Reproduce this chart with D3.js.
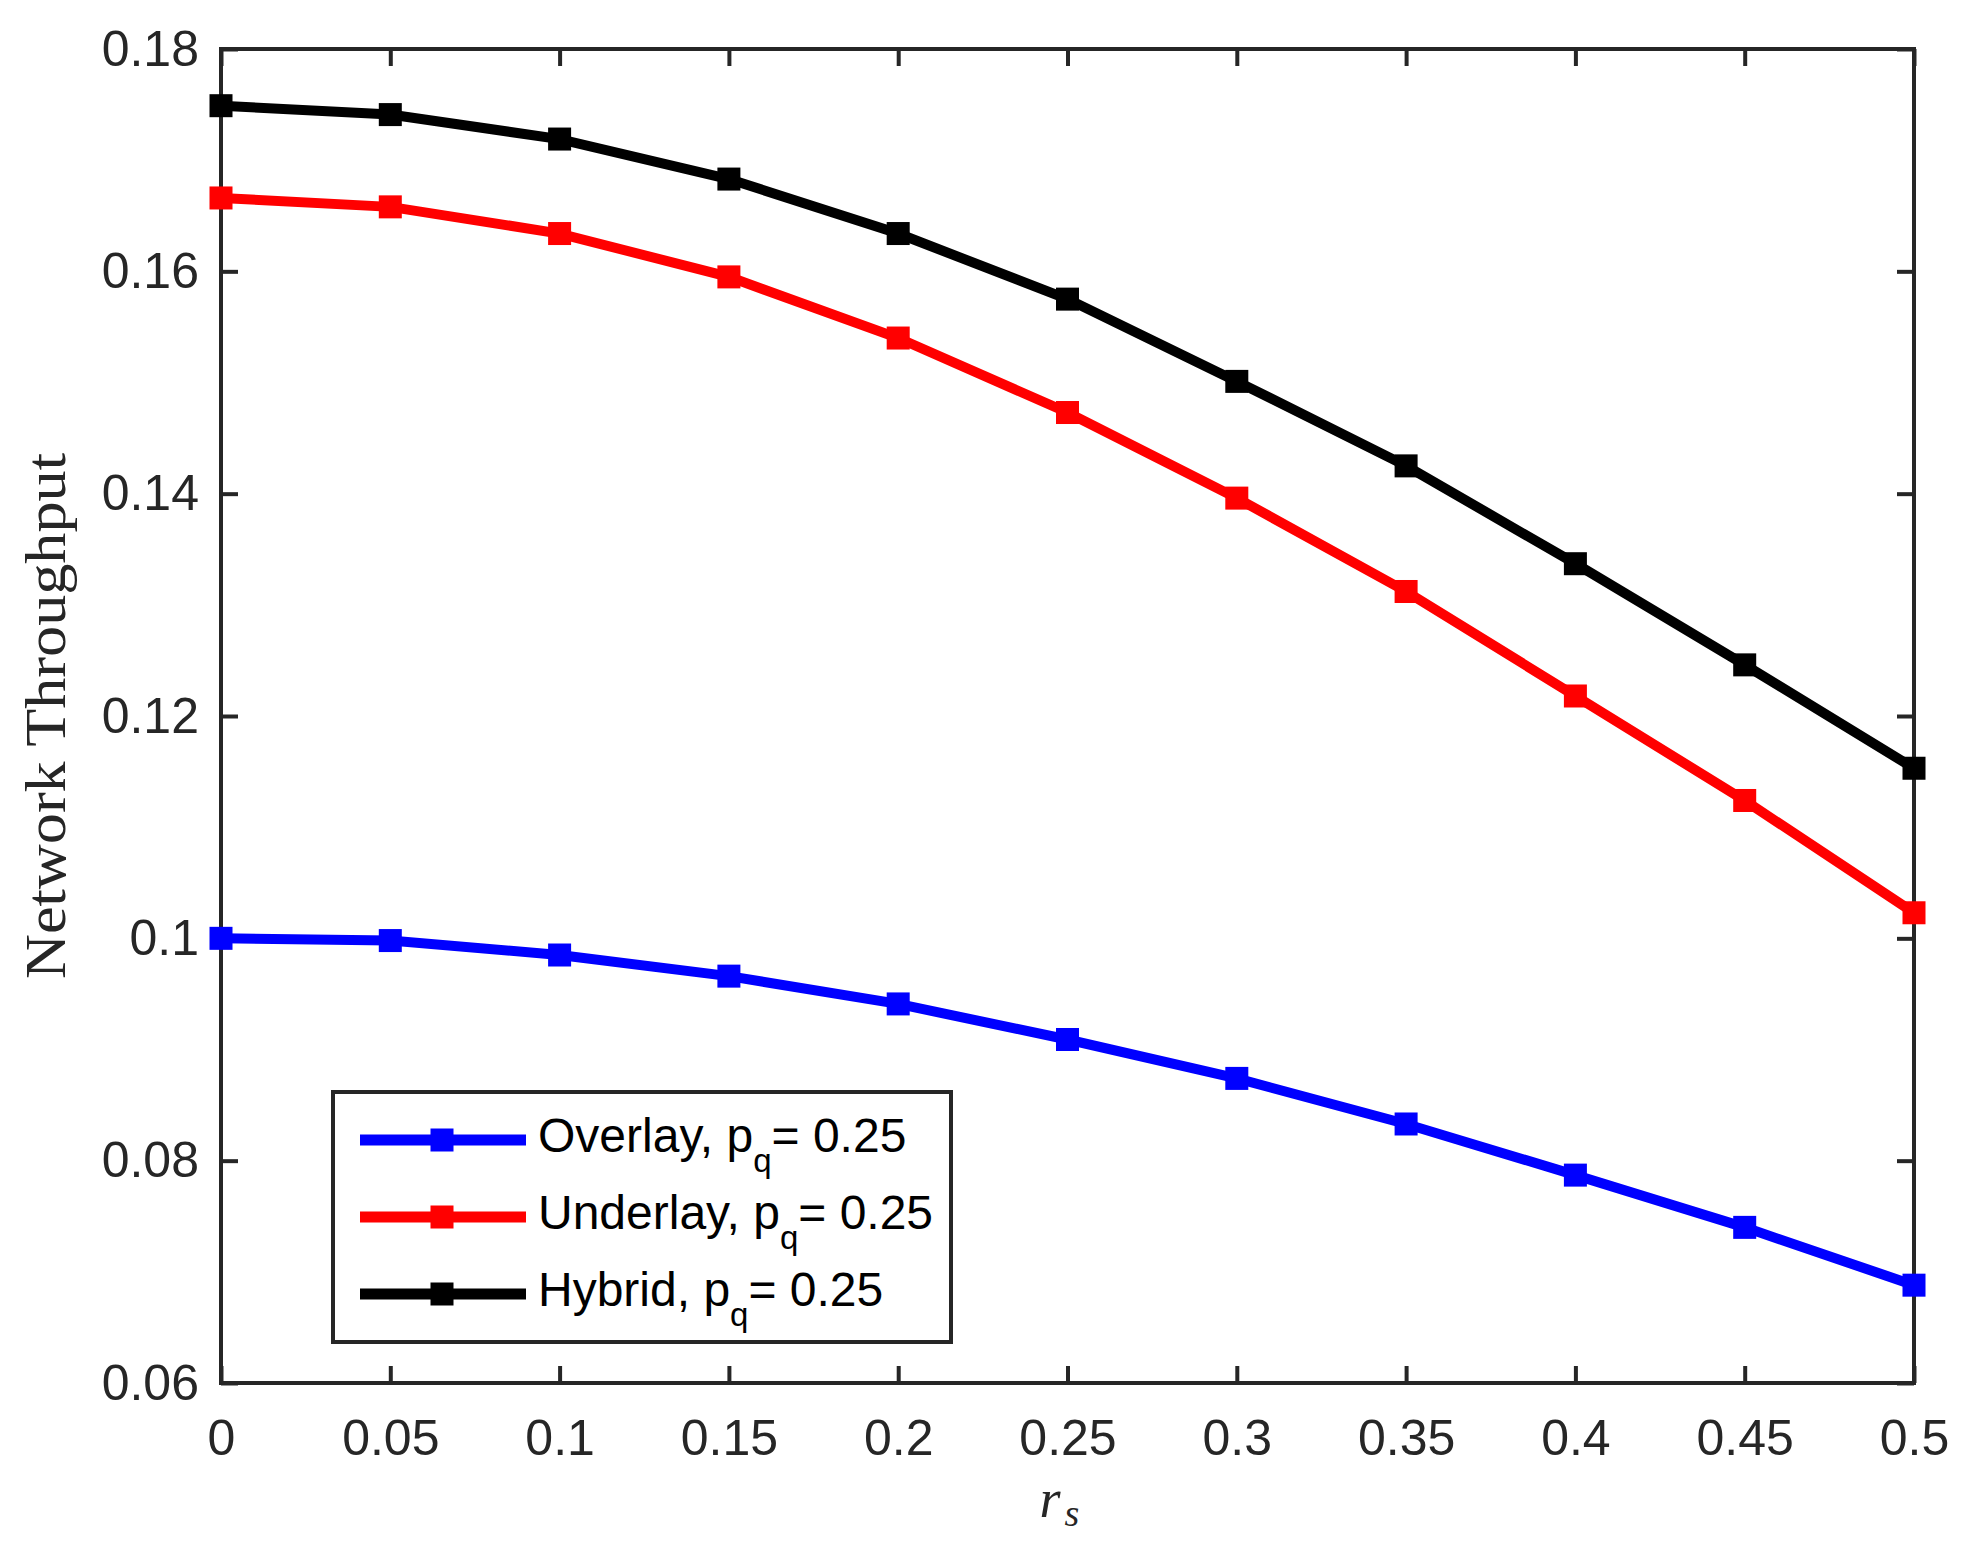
<!DOCTYPE html>
<html>
<head>
<meta charset="utf-8">
<script src="https://cdn.jsdelivr.net/npm/d3@7"></script>
<style>
  body { margin: 0; background: #fff; }
</style>
</head>
<body>
<script>
// values
var rs = [0, 0.05, 0.1, 0.15, 0.2, 0.25, 0.3, 0.35, 0.4, 0.45, 0.5];
var overlay  = [0.1000, 0.0998, 0.0985, 0.0966, 0.0941, 0.0909, 0.0874, 0.0833, 0.0787, 0.0740, 0.0688];
var underlay = [0.1666, 0.1658, 0.1634, 0.1595, 0.1540, 0.1473, 0.1396, 0.1312, 0.1218, 0.1124, 0.1023];
var hybrid   = [0.1749, 0.1741, 0.1719, 0.1683, 0.1634, 0.1575, 0.1501, 0.1425, 0.1337, 0.1246, 0.1153];
var xTicks = [0, 0.05, 0.1, 0.15, 0.2, 0.25, 0.3, 0.35, 0.4, 0.45, 0.5];
var yTicks = [0.06, 0.08, 0.1, 0.12, 0.14, 0.16, 0.18];
var seriesNames = ["Overlay", "Underlay", "Hybrid"];
var seriesColors = ["#0000ff", "#ff0000", "#000000"];

var width = 1975, height = 1548;
var plotLeft = 221, plotRight = 1914, plotTop = 49, plotBottom = 1383;
var axisColor = "#262626";

var svg = d3.select("body").append("svg")
  .attr("width", width)
  .attr("height", height);

var xScale = d3.scaleLinear().domain([0, 0.5]).range([plotLeft, plotRight]);
var yScale = d3.scaleLinear().domain([0.06, 0.18]).range([plotBottom, plotTop]);

var fmt = d3.format("~g");
var tickLen = 17;

// axes: bottom, left, top and right, ticks pointing inward
var gx = svg.append("g").attr("transform", "translate(0," + plotBottom + ")")
  .call(d3.axisBottom(xScale).tickValues(xTicks).tickFormat(fmt).tickSizeInner(-tickLen).tickSizeOuter(0).tickPadding(36));
var gxt = svg.append("g").attr("transform", "translate(0," + plotTop + ")")
  .call(d3.axisTop(xScale).tickValues(xTicks).tickFormat("").tickSizeInner(-tickLen).tickSizeOuter(0));
var gy = svg.append("g").attr("transform", "translate(" + plotLeft + ",0)")
  .call(d3.axisLeft(yScale).tickValues(yTicks).tickFormat(fmt).tickSizeInner(-tickLen).tickSizeOuter(0).tickPadding(22));
var gyr = svg.append("g").attr("transform", "translate(" + plotRight + ",0)")
  .call(d3.axisRight(yScale).tickValues(yTicks).tickFormat("").tickSizeInner(-tickLen).tickSizeOuter(0));

[gx, gxt, gy, gyr].forEach(function(g){
  g.select(".domain").remove();
  g.selectAll(".tick line").attr("stroke", axisColor).attr("stroke-width", 4);
  g.selectAll(".tick text")
    .attr("fill", axisColor)
    .style("font-family", "'Liberation Sans', Arial, sans-serif")
    .style("font-size", "50px");
});
gx.selectAll(".tick text").attr("dy", "0.71em");

svg.append("rect")
  .attr("x", plotLeft).attr("y", plotTop)
  .attr("width", plotRight - plotLeft).attr("height", plotBottom - plotTop)
  .attr("fill", "none")
  .attr("stroke", axisColor)
  .attr("stroke-width", 4);

// axis labels
var xl = svg.append("text")
  .attr("x", (plotLeft + plotRight) / 2 - 8)
  .attr("y", 1517)
  .attr("text-anchor", "middle")
  .style("font-family", "'Liberation Serif', 'DejaVu Serif', serif")
  .style("font-style", "italic")
  .style("font-size", "54px")
  .attr("fill", axisColor);
xl.append("tspan").text("r");
xl.append("tspan").attr("dy", 9).attr("dx", 4).style("font-size", "38px").text("s");

svg.append("text")
  .attr("transform", "translate(65," + (plotTop + plotBottom) / 2 + ") rotate(-90)")
  .attr("text-anchor", "middle")
  .attr("textLength", 526)
  .attr("lengthAdjust", "spacingAndGlyphs")
  .style("font-family", "'Liberation Serif', 'DejaVu Serif', serif")
  .style("font-size", "56px")
  .attr("fill", axisColor)
  .text("Network Throughput");

// series
var allSeries = [overlay, underlay, hybrid];
var line = d3.line()
  .x(function(d, i){ return xScale(rs[i]); })
  .y(function(d){ return yScale(d); });

var markerSize = 23;

allSeries.forEach(function(values, k){
  svg.append("path")
    .datum(values)
    .attr("d", line)
    .attr("fill", "none")
    .attr("stroke", seriesColors[k])
    .attr("stroke-width", 10)
    .attr("stroke-linejoin", "miter");

  svg.selectAll(".m" + k)
    .data(values)
    .enter()
    .append("rect")
    .attr("class", "m" + k)
    .attr("x", function(d, i){ return xScale(rs[i]) - markerSize / 2; })
    .attr("y", function(d){ return yScale(d) - markerSize / 2; })
    .attr("width", markerSize)
    .attr("height", markerSize)
    .attr("fill", seriesColors[k]);
});

// legend
var legend = svg.append("g");
legend.append("rect")
  .attr("x", 333).attr("y", 1092)
  .attr("width", 618).attr("height", 250)
  .attr("fill", "#fff")
  .attr("stroke", axisColor)
  .attr("stroke-width", 4);

var rowY = [1140, 1217, 1294];
seriesNames.forEach(function(name, k){
  var y = rowY[k];
  legend.append("line")
    .attr("x1", 360).attr("x2", 526)
    .attr("y1", y).attr("y2", y)
    .attr("stroke", seriesColors[k])
    .attr("stroke-width", 11);
  legend.append("rect")
    .attr("x", 442 - markerSize / 2).attr("y", y - markerSize / 2)
    .attr("width", markerSize).attr("height", markerSize)
    .attr("fill", seriesColors[k]);
  var t = legend.append("text")
    .attr("x", 538)
    .attr("y", y + 12)
    .style("font-family", "'Liberation Sans', Arial, sans-serif")
    .style("font-size", "48px")
    .attr("fill", "#000");
  t.append("tspan").text(name + ", p");
  t.append("tspan").attr("dy", 20).style("font-size", "33px").text("q");
  t.append("tspan").attr("dy", -20).text("= 0.25");
});
</script>
</body>
</html>
